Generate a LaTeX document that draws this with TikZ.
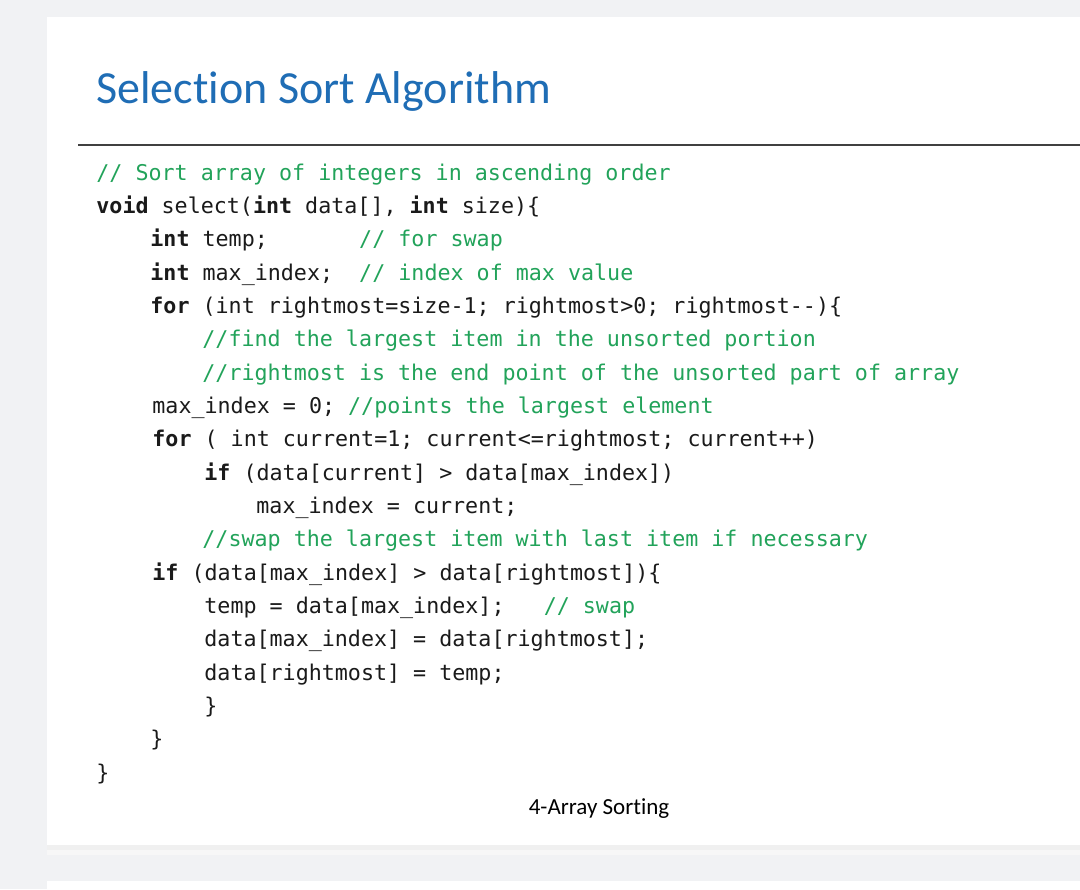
\documentclass[tikz,border=0pt]{standalone}
\usepackage{fontspec}
\setmainfont{Carlito}[Ligatures={NoCommon}]
\newfontfamily\codefont{DejaVu Sans Mono}
\definecolor{pagegray}{HTML}{F1F2F4}
\definecolor{titleblue}{HTML}{1F6DB5}
\definecolor{commentgreen}{HTML}{22A35A}
\definecolor{codeblack}{HTML}{1A1A1A}
\newcommand{\kw}[1]{\textbf{#1}}
\newcommand{\cm}[1]{\textcolor{commentgreen}{#1}}
\tikzset{
  codeline/.style={anchor=base west, inner sep=0pt, text=codeblack,
    font=\codefont\fontsize{10.84}{13}\selectfont},
  slidetitle/.style={anchor=base west, inner sep=0pt, text=titleblue,
    font=\fontsize{23}{28}\selectfont},
  footer/.style={anchor=base, inner sep=0pt, text=black,
    font=\fontsize{11.5}{14}\selectfont}
}
\begin{document}
\begin{tikzpicture}[x=0.5pt,y=-0.5pt]
  \useasboundingbox (0,0) rectangle (1080,889);
  % page background and slides
  \fill[pagegray] (0,0) rectangle (1080,889);
  \fill[black!6] (47,845) rectangle (1080,850);
  \fill[black!3] (47,850) rectangle (1080,855);
  \fill[white] (47,17) rectangle (1080,845);
  \fill[white] (47,881) rectangle (1080,889);
  % title
  \node[slidetitle] (title) at (96,103) {Selection Sort Algorithm};
  \coordinate (ruleL) at (78,145);
  \coordinate (ruleR) at (1080,145);
  \draw[line width=1pt, black!75] (ruleL) -- (ruleR);
  % code
  \draw
    (96,180.0) node[codeline] (l1) {\cm{// Sort array of integers in ascending order}}
    (96,213.3) node[codeline] (l2) {\kw{void} select(\kw{int} data[], \kw{int} size)\{}
    (150,246.7) node[codeline] (l3) {\kw{int} temp;\ \ \ \ \ \ \ \cm{// for swap}}
    (150,280.0) node[codeline] (l4) {\kw{int} max\_index;\ \ \cm{// index of max value}}
    (150,313.3) node[codeline] (l5) {\kw{for} (int rightmost=size-1; rightmost>0; rightmost-{}-)\{}
    (202,346.7) node[codeline] (l6) {\cm{//find the largest item in the unsorted portion}}
    (202,380.0) node[codeline] (l7) {\cm{//rightmost is the end point of the unsorted part of array}}
    (152,413.3) node[codeline] (l8) {max\_index = 0; \cm{//points the largest element}}
    (152,446.7) node[codeline] (l9) {\kw{for} ( int current=1; current<=rightmost; current++)}
    (204,480.0) node[codeline] (l10) {\kw{if} (data[current] > data[max\_index])}
    (256,513.3) node[codeline] (l11) {max\_index = current;}
    (202,546.7) node[codeline] (l12) {\cm{//swap the largest item with last item if necessary}}
    (152,580.0) node[codeline] (l13) {\kw{if} (data[max\_index] > data[rightmost])\{}
    (204,613.3) node[codeline] (l14) {temp = data[max\_index];\ \ \ \cm{// swap}}
    (204,646.7) node[codeline] (l15) {data[max\_index] = data[rightmost];}
    (204,680.0) node[codeline] (l16) {data[rightmost] = temp;}
    (204,713.3) node[codeline] (l17) {\}}
    (150,746.7) node[codeline] (l18) {\}}
    (96,780.0) node[codeline] (l19) {\}};
  % footer
  \node[footer] (foot) at (599,814) {4-Array Sorting};
\end{tikzpicture}
\end{document}
